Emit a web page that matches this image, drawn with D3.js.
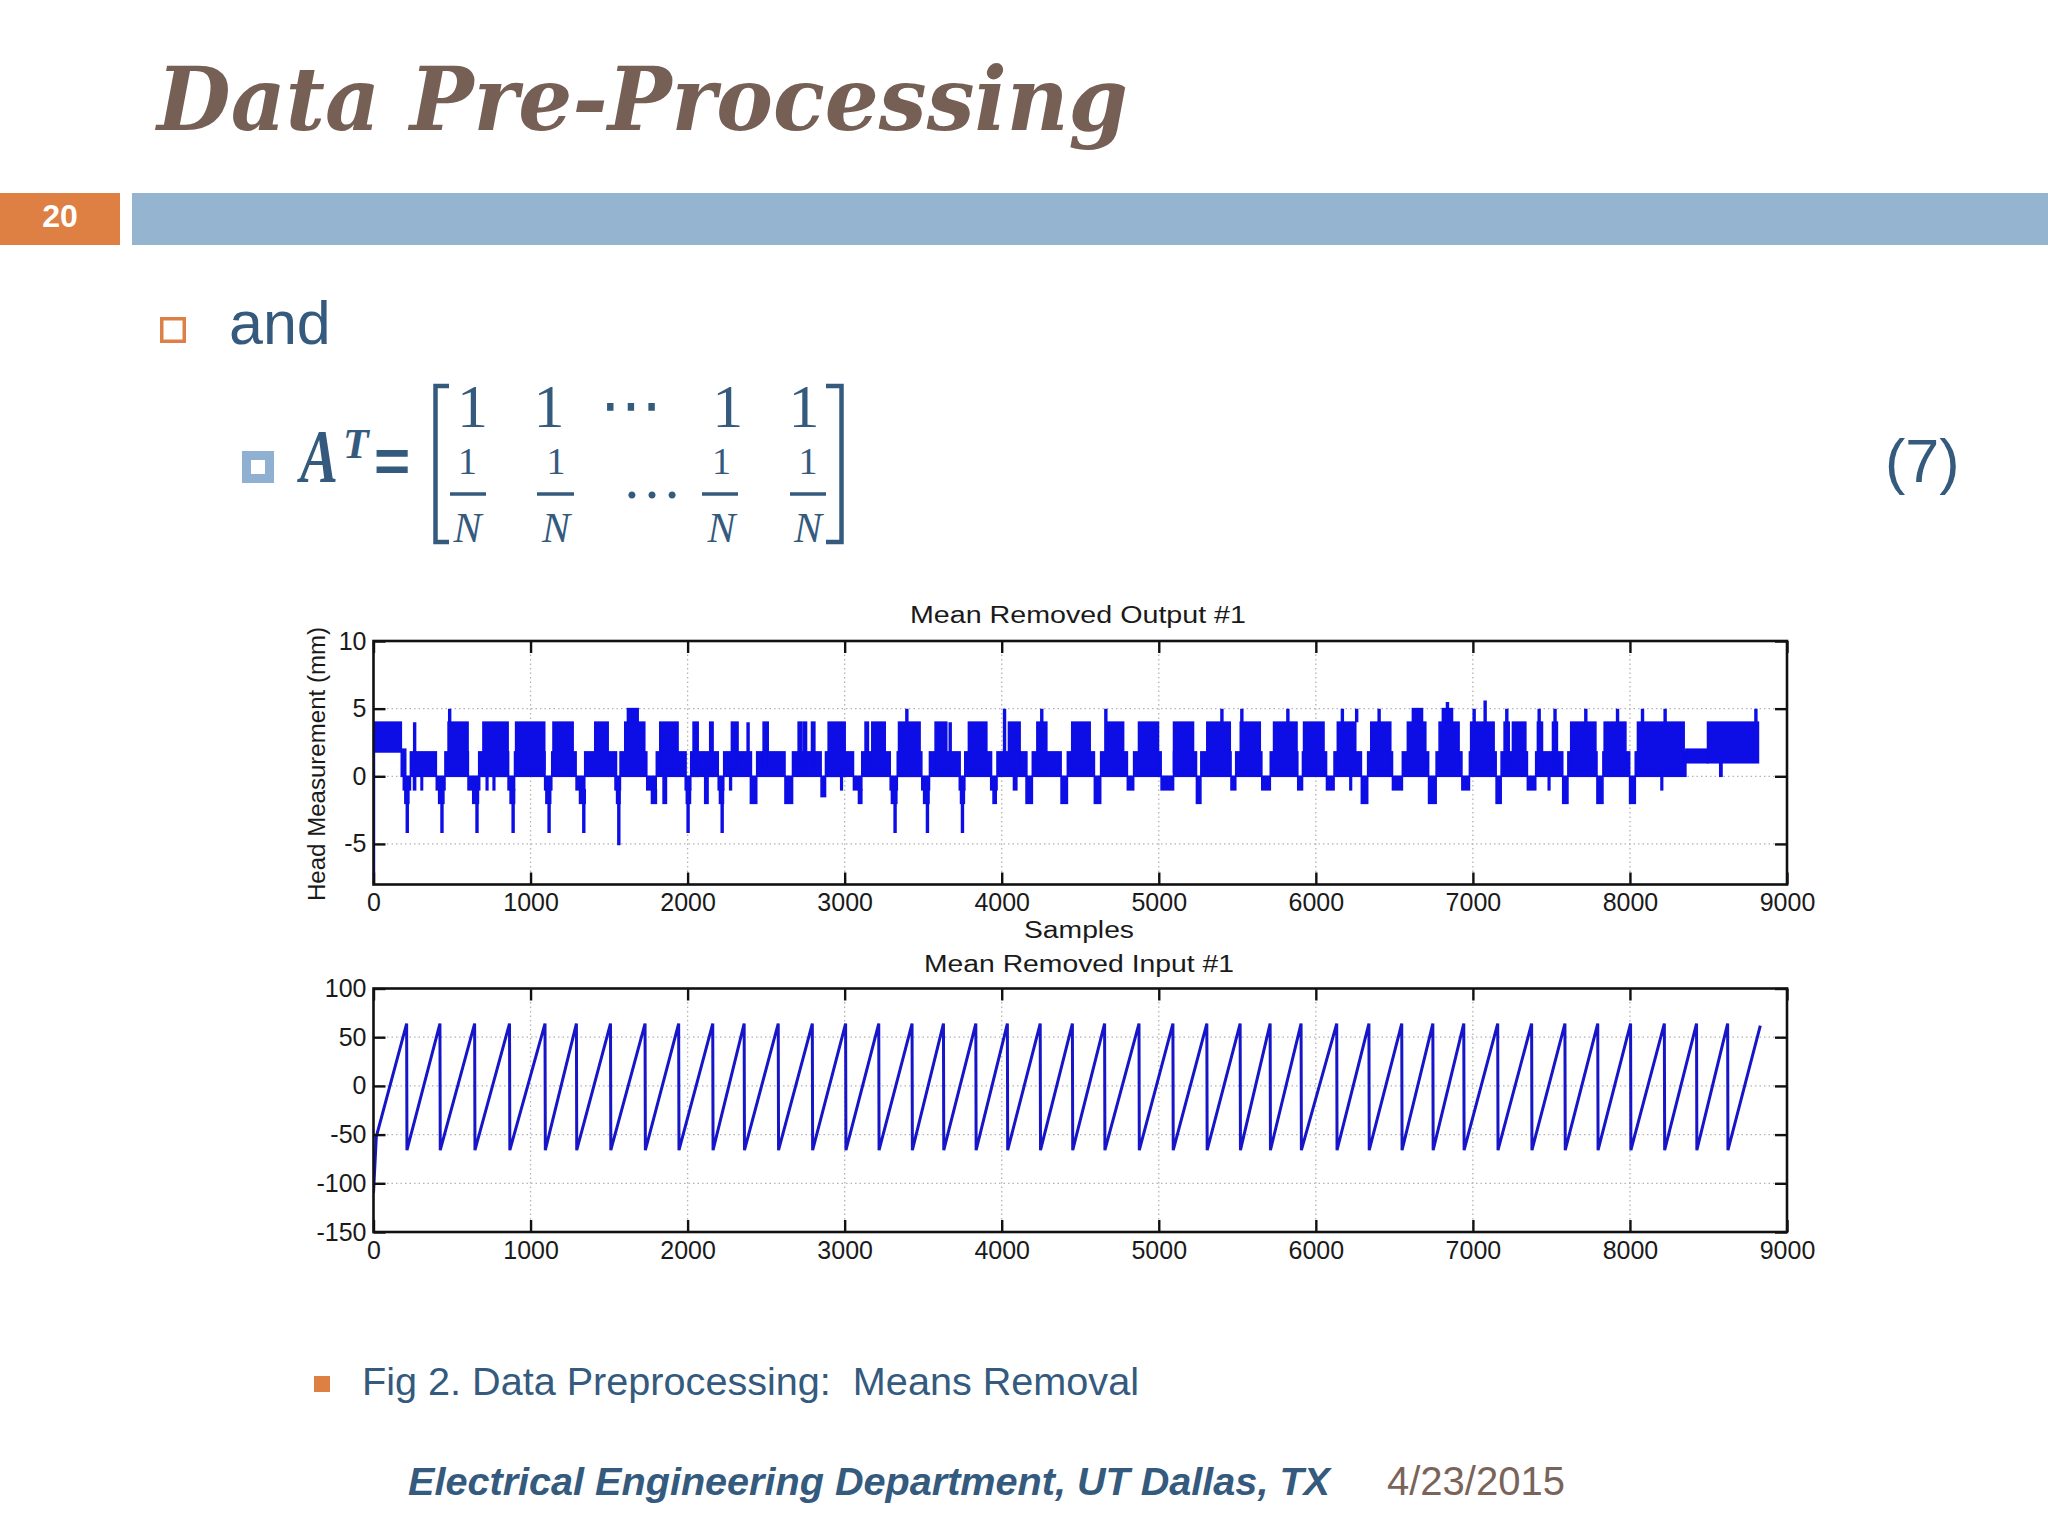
<!DOCTYPE html>
<html><head><meta charset="utf-8">
<script src="https://cdn.jsdelivr.net/npm/d3@7"></script>
<style>
html,body{margin:0;padding:0;background:#fff;}
svg{display:block;}
text{white-space:pre;}
</style></head>
<body>
<script>
// ---------- DATA ----------
const xTicks = [0,1000,2000,3000,4000,5000,6000,7000,8000,9000];
const yTicksTop = [-5,0,5,10];
const yTicksBot = [-150,-100,-50,0,50,100];
const xDomain = [0,9000];
const yDomainTop = [-8,10];
const yDomainBot = [-150,100];

// Mean removed output #1 : solid bands [startSample, endSample, low, high]
const outBlocksA = [
[0,177,1.8,4],[177,205,0,2],[190,235,-1,0],[200,225,-2,-1],[235,400,0,1.8],[255,268,-1,0],[303,312,-1,0],
[400,455,-1,0],[415,448,-2,-1],[455,604,0,1.8],[475,602,0.5,4],[602,676,-1,0],[632,668,-2,-1],
[670,860,0,1.8],[697,857,0,4],[718,728,-1,0],[762,772,-1,0],[857,898,-1,0],[870,898,-2,-1],
[898,1092,0,1.8],[905,1090,0.5,4],[1090,1135,-1,0],[1098,1128,-2,-1],[1135,1290,0,1.8],[1143,1271,0.6,4],
[1290,1345,-1,0],[1312,1348,-2,-1],[1345,1547,0,1.8],[1409,1494,1,4],[1538,1572,-1,0],[1548,1570,-2,-1],
[1570,1740,0,1.8],[1600,1727,0.8,4],[1617,1685,4,5],[1740,1800,-1,0],[1770,1801,-2,-1],
[1801,1990,0,1.8],[1823,1939,0.5,4],[1844,1865,-2,0],[1985,2020,-1,0],[1992,2018,-2,-1],
[2020,2195,0,1.8],[2035,2067,0,4],[2141,2162,0,4],[2109,2130,-2,0],[2195,2230,-1,0],[2203,2228,-2,-1],
[2230,2406,0,1.8],[2279,2321,0.5,4],[2268,2279,-1,0],[2400,2440,-2,0],[2440,2620,0,1.8],[2481,2513,0.5,4],
[2620,2668,-2,0],[2668,2850,0,1.8],[2704,2725,0.5,4],[2735,2757,0.5,4],[2789,2810,0.5,4],
[2850,2878,-1.5,0],[2878,3003,0,1.8],[2895,3003,0,4],[2975,2985,-1,0]
];
const outBlocksB = [
[3003,3056,0,1.8],[3056,3109,-1,0],[3088,3109,-2,-1],[3109,3290,0,1.8],[3130,3151,0.5,4],[3173,3258,0.3,4],
[3290,3335,-1,0],[3298,3332,-2,-1],[3335,3491,0,1.8],[3343,3480,0,4],[3491,3540,-1,0],[3503,3537,-2,-1],
[3540,3735,0,1.8],[3576,3650,0.3,4],[3730,3765,-1,0],[3738,3762,-2,-1],[3765,3935,0,1.8],[3788,3905,0.5,4],
[3930,3970,-1,0],[3945,3965,-2,-1],[3970,4160,0,1.8],[4043,4117,0.5,4],[4075,4096,-1,0],[4155,4195,-2,0],
[4195,4378,0,1.8],[4224,4287,0.5,4],[4378,4418,-2,0],[4418,4590,0,1.8],[4446,4563,0.3,4],[4590,4630,-2,0],
[4630,4800,0,1.8],[4669,4776,0.5,4],[4800,4840,-1,0],[4840,5015,0,1.8],[4871,4998,0.3,4],[5015,5094,-1,0],
[5094,5240,0,1.8],[5094,5221,0.3,4],[5240,5268,-2,0],[5268,5460,0,1.8],[5306,5455,0.4,4],[5460,5490,-1,0],
[5490,5656,0,1.8],[5519,5646,0.4,4],[5656,5710,-1,0],[5710,5885,0,1.8],[5731,5880,0.3,4],[5885,5915,-1,0],
[5915,6068,0,1.8],[5922,6052,0.3,4]
];
const outBlocksC = [
[6068,6116,-1,0],[6116,6290,0,1.8],[6137,6254,0.4,4],[6217,6227,-1,0],[6290,6330,-2,0],[6330,6488,0,1.8],
[6350,6477,0.4,4],[6488,6551,-1,0],[6551,6718,0,1.8],[6583,6700,0.4,4],[6615,6679,4,5],[6718,6766,-2,0],
[6766,6930,0,1.8],[6785,6912,0.4,4],[6806,6870,4,5],[6930,6978,-1,0],[6978,7148,0,1.8],[6986,7135,0.4,4],
[7148,7180,-2,0],[7180,7347,0,1.8],[7199,7231,0.4,4],[7252,7337,0.4,4],[7347,7400,-1,0],[7400,7572,0,1.8],
[7411,7443,0.4,4],[7507,7538,0.4,4],[7480,7490,-1,0],[7572,7605,-2,0],[7605,7790,0,1.8],[7623,7783,0.4,4],
[7790,7828,-2,0],[7828,7998,0,1.8],[7836,7974,0.4,4],[7998,8034,-2,0],[8034,8356,0,1.8],[8048,8345,0.3,4],
[8198,8208,-1,0],[8356,8494,1,2],[8494,8818,1,4],[8572,8586,0,1]
];
// thin excursions [sample, fromValue, toValue]
const outSpikes = [
[0,-8,4],[215,-2,-4.2],[262,1.8,4],[436,-2,-4.2],[485,4,5],[659,-2,-4.2],[889,-2,-4.2],[1118,-2,-4.2],
[1339,-2,-4.2],[1562,-2,-5.1],[2003,-2,-4.2],[2220,-2,-4.2],[2385,1.8,4],
[3321,-2,-4.2],[3396,4,5],[3527,-2,-4.2],[3672,1.8,4],[3750,-2,-4.2],[4018,1.8,5],[4255,4,5],[4663,1.8,5],
[5402,4,5],[5529,4,5],[5822,4,5],
[6169,4,5],[6260,4,5],[6403,4,5],[6838,5,5.5],[7008,4,5],[7078,4,5.6],[7216,4,5],[7422,4,5],[7523,4,5],
[7719,4,5],[7921,4,5],[8080,4,5],[8224,4,5],[8802,4,5]
];

// Mean removed input #1 : vertices [sample, value]
const inputPts = [
[0,-110],[18,-52],
[211,64],[213,-66],[423,64],[425,-66],[644,64],[646,-66],[866,64],[868,-66],[1092,64],[1094,-66],
[1292,64],[1294,-66],[1509,64],[1511,-66],[1729,64],[1731,-66],[1943,64],[1945,-66],[2160,64],[2162,-66],
[2360,64],[2362,-66],[2577,64],[2579,-66],[2794,64],[2796,-66],[3006,64],[3008,-66],[3217,64],[3219,-66],
[3429,64],[3431,-66],[3629,64],[3631,-66],[3835,64],[3837,-66],[4036,64],[4038,-66],[4245,64],[4247,-66],
[4450,64],[4452,-66],[4655,64],[4657,-66],[4874,64],[4876,-66],[5090,64],[5092,-66],[5306,64],[5308,-66],
[5518,64],[5520,-66],[5709,64],[5711,-66],[5906,64],[5908,-66],[6133,64],[6135,-66],[6338,64],[6340,-66],
[6547,64],[6549,-66],[6745,64],[6747,-66],[6942,64],[6944,-66],[7158,64],[7160,-66],[7374,64],[7376,-66],
[7586,64],[7588,-66],[7795,64],[7797,-66],[8004,64],[8006,-66],[8219,64],[8221,-66],[8424,64],[8426,-66],
[8622,64],[8624,-66],[8830,62]
];

// ---------- LAYOUT ----------
const W = 2048, H = 1536;
const blue = "#345a7e", brown = "#766056";
const svg = d3.select("body").append("svg").attr("width", W).attr("height", H)
  .attr("viewBox", `0 0 ${W} ${H}`);
svg.append("rect").attr("width", W).attr("height", H).attr("fill", "#fff");

// Title
svg.append("text").text("Data Pre-Processing")
  .attr("x", 157).attr("y", 130)
  .attr("font-family", "'DejaVu Serif', serif").attr("font-weight", "bold").attr("font-style", "italic")
  .attr("font-size", 88).attr("fill", brown)
  .attr("textLength", 971).attr("lengthAdjust", "spacingAndGlyphs");

// header bars
svg.append("rect").attr("x", 0).attr("y", 193).attr("width", 120).attr("height", 52).attr("fill", "#de7f43");
svg.append("rect").attr("x", 132).attr("y", 193).attr("width", W - 132).attr("height", 52).attr("fill", "#94b4d0");
svg.append("text").text("20").attr("x", 60).attr("y", 227).attr("text-anchor", "middle")
  .attr("font-family", "'Liberation Sans', Arial, sans-serif").attr("font-weight", "bold")
  .attr("font-size", 32).attr("fill", "#fff");

// bullet "and"
svg.append("rect").attr("x", 161.75).attr("y", 318.75).attr("width", 22.5).attr("height", 22.5)
  .attr("fill", "none").attr("stroke", "#dc8048").attr("stroke-width", 3.5);
svg.append("text").text("and").attr("x", 229).attr("y", 344)
  .attr("font-family", "'Liberation Sans', Arial, sans-serif").attr("font-size", 61).attr("fill", blue);

// bullet 2 + equation
svg.append("rect").attr("x", 246.5).attr("y", 455.5).attr("width", 23).attr("height", 23)
  .attr("fill", "#fff").attr("stroke", "#8fb0d0").attr("stroke-width", 9);
const serif = "'Liberation Serif', 'Times New Roman', serif";
svg.append("text").text("A").attr("x", 0).attr("y", 0)
  .attr("transform", "translate(300,482) scale(0.75,1)")
  .attr("font-family", serif).attr("font-weight", "bold").attr("font-style", "italic")
  .attr("font-size", 76).attr("fill", blue);
svg.append("text").text("T").attr("x", 343).attr("y", 458)
  .attr("font-family", serif).attr("font-weight", "bold").attr("font-style", "italic")
  .attr("font-size", 42).attr("fill", blue);
svg.append("text").text("=").attr("x", 374).attr("y", 482)
  .attr("font-family", "'Liberation Sans', Arial, sans-serif").attr("font-weight", "bold")
  .attr("font-size", 62).attr("fill", blue);
// brackets
svg.append("path").attr("d", "M449,386 H435.5 V542 H449").attr("fill", "none").attr("stroke", blue).attr("stroke-width", 4.5);
svg.append("path").attr("d", "M826,386 H841.5 V542 H826").attr("fill", "none").attr("stroke", blue).attr("stroke-width", 4.5);
const topOnes = [472.6, 549, 727.8, 804];
topOnes.forEach(cx => svg.append("text").text("1").attr("x", cx).attr("y", 427).attr("text-anchor", "middle")
  .attr("font-family", serif).attr("font-size", 62).attr("fill", blue));
svg.append("text").text("\u22EF").attr("x", 631).attr("y", 426).attr("text-anchor", "middle")
  .attr("font-family", "'DejaVu Sans', sans-serif").attr("font-size", 62).attr("fill", blue);
const fracs = [[467.5, 450, 486], [556, 537, 574], [721.6, 702, 738], [808, 790, 826]];
fracs.forEach(f => {
  svg.append("text").text("1").attr("x", f[0]).attr("y", 474).attr("text-anchor", "middle")
    .attr("font-family", serif).attr("font-size", 38).attr("fill", blue);
  svg.append("line").attr("x1", f[1]).attr("x2", f[2]).attr("y1", 494).attr("y2", 494)
    .attr("stroke", blue).attr("stroke-width", 3.5);
  svg.append("text").text("N").attr("x", f[0]).attr("y", 542).attr("text-anchor", "middle")
    .attr("font-family", serif).attr("font-style", "italic").attr("font-size", 42).attr("fill", blue);
});
svg.append("text").text("\u2026").attr("x", 652).attr("y", 498).attr("text-anchor", "middle")
  .attr("font-family", serif).attr("font-size", 60).attr("fill", blue);
svg.append("text").text("(7)").attr("x", 1885).attr("y", 482)
  .attr("font-family", "'Liberation Sans', Arial, sans-serif").attr("font-size", 61).attr("fill", blue);

// ---------- CHARTS ----------
const L = 373.5, R = 1787;
const xTop = d3.scaleLinear().domain(xDomain).range([L, R]);
const yTop = d3.scaleLinear().domain(yDomainTop).range([884.5, 641]);
const xBot = d3.scaleLinear().domain(xDomain).range([L, R]);
const yBot = d3.scaleLinear().domain(yDomainBot).range([1232, 988.5]);
const sans = "'Liberation Sans', Arial, sans-serif";
const fmt = d => String(d);

function panel(x, y, yTicks, id) {
  const g = svg.append("g");
  const [y0, y1] = y.range();
  // grid
  g.selectAll(".gx").data(xTicks.filter(t => t > xDomain[0] && t < xDomain[1])).join("line")
    .attr("x1", d => x(d)).attr("x2", d => x(d)).attr("y1", y1).attr("y2", y0)
    .attr("stroke", "#b4b4b4").attr("stroke-width", 1.3).attr("stroke-dasharray", "1.5,3");
  g.selectAll(".gy").data(yTicks.filter(t => t > y.domain()[0] && t < y.domain()[1])).join("line")
    .attr("x1", L).attr("x2", R).attr("y1", d => y(d)).attr("y2", d => y(d))
    .attr("stroke", "#b4b4b4").attr("stroke-width", 1.3).attr("stroke-dasharray", "1.5,3");
  svg.append("clipPath").attr("id", id).append("rect")
    .attr("x", L).attr("y", y1).attr("width", R - L).attr("height", y0 - y1);
  const data = g.append("g").attr("clip-path", `url(#${id})`);
  // axes
  const ax = (axis, tx, ty, labels) => {
    const a = g.append("g").attr("transform", `translate(${tx},${ty})`).call(axis);
    a.select(".domain").remove();
    a.selectAll("line").attr("stroke", "#111").attr("stroke-width", 2.4);
    a.selectAll("text").attr("font-family", sans).attr("font-size", 25).attr("fill", "#1a1a1a");
    if (!labels) a.selectAll("text").remove();
    return a;
  };
  ax(d3.axisBottom(x).tickValues(xTicks).tickFormat(fmt).tickSizeInner(-12).tickSizeOuter(0).tickPadding(9), 0, y0, true);
  ax(d3.axisTop(x).tickValues(xTicks).tickSizeInner(-12).tickSizeOuter(0), 0, y1, false);
  ax(d3.axisLeft(y).tickValues(yTicks).tickFormat(fmt).tickSizeInner(-12).tickSizeOuter(0).tickPadding(7), L, 0, true);
  ax(d3.axisRight(y).tickValues(yTicks).tickSizeInner(-12).tickSizeOuter(0), R, 0, false);
  g.append("rect").attr("x", L).attr("y", y1).attr("width", R - L).attr("height", y0 - y1)
    .attr("fill", "none").attr("stroke", "#111").attr("stroke-width", 2.6);
  return data;
}

const topData = panel(xTop, yTop, yTicksTop, "clipTop");
const sig = "#0d0de6";
const blocks = outBlocksA.concat(outBlocksB, outBlocksC);
topData.selectAll("rect.b").data(blocks).join("rect")
  .attr("x", d => xTop(d[0])).attr("width", d => xTop(d[1]) - xTop(d[0]))
  .attr("y", d => yTop(d[3])).attr("height", d => yTop(d[2]) - yTop(d[3]))
  .attr("fill", sig).attr("stroke", sig).attr("stroke-width", 1.6);
topData.selectAll("line.s").data(outSpikes).join("line")
  .attr("x1", d => xTop(d[0])).attr("x2", d => xTop(d[0]))
  .attr("y1", d => yTop(d[1])).attr("y2", d => yTop(d[2]))
  .attr("stroke", sig).attr("stroke-width", 3.4);

const botData = panel(xBot, yBot, yTicksBot, "clipBot");
botData.append("path").datum(inputPts)
  .attr("d", d3.line().x(d => xBot(d[0])).y(d => yBot(d[1])))
  .attr("fill", "none").attr("stroke", "#1616c8").attr("stroke-width", 3);

// chart titles and labels
const lbl = (t, x, y, len) => svg.append("text").text(t).attr("x", x).attr("y", y).attr("text-anchor", "middle")
  .attr("font-family", sans).attr("font-size", 23).attr("fill", "#1a1a1a")
  .attr("textLength", len).attr("lengthAdjust", "spacingAndGlyphs");
lbl("Mean Removed Output #1", 1078, 623, 336);
lbl("Samples", 1079, 938, 110);
lbl("Mean Removed Input #1", 1079, 972, 310);
lbl("Head Measurement (mm)", 0, 0, 274).attr("transform", "translate(325,764) rotate(-90)");

// caption
svg.append("rect").attr("x", 314).attr("y", 1376).attr("width", 16).attr("height", 16).attr("fill", "#de7f43");
svg.append("text").text("Fig 2. Data Preprocessing:  Means Removal").attr("x", 362).attr("y", 1395)
  .attr("font-family", sans).attr("font-size", 38).attr("fill", blue)
  .attr("textLength", 777).attr("lengthAdjust", "spacingAndGlyphs");
// footer
svg.append("text").text("Electrical Engineering Department, UT Dallas, TX").attr("x", 408).attr("y", 1495)
  .attr("font-family", sans).attr("font-size", 39).attr("font-weight", "bold").attr("font-style", "italic")
  .attr("fill", blue).attr("textLength", 922).attr("lengthAdjust", "spacingAndGlyphs");
svg.append("text").text("4/23/2015").attr("x", 1387).attr("y", 1495)
  .attr("font-family", sans).attr("font-size", 40).attr("fill", "#7a6459");
</script>
</body></html>
